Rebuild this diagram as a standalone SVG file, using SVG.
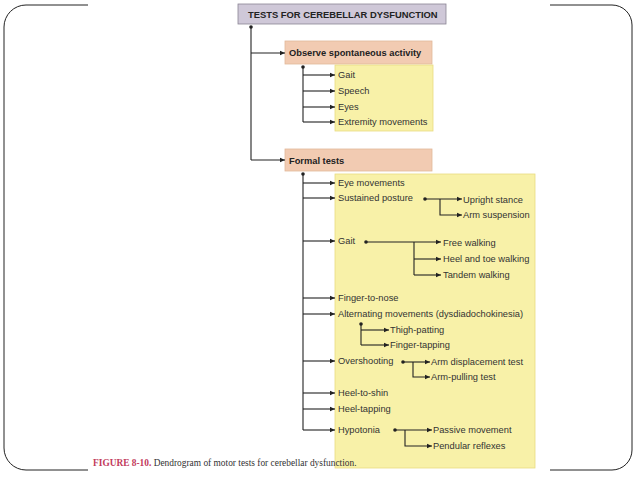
<svg xmlns="http://www.w3.org/2000/svg" width="638" height="479" viewBox="0 0 638 479">
<defs>
<marker id="a" markerWidth="6" markerHeight="6" refX="5" refY="3" orient="auto" markerUnits="userSpaceOnUse"><path d="M0,0.8 L5,3 L0,5.2 Z" fill="#222"/></marker>
<style>
text{font-family:"Liberation Sans",Arial,sans-serif;font-size:9.3px;fill:#333}
.b{font-weight:bold;fill:#222}
.c{stroke:#222;stroke-width:1.1;fill:none}
.ar{marker-end:url(#a)}
.y{fill:#f8f1a8;stroke:#e8dc80;stroke-width:0.8}
.o{fill:#f2cbb2;stroke:#e2b89a;stroke-width:0.8}
</style>
</defs>
<rect width="638" height="479" fill="#fff"/>
<path d="M88,5 H26 A22,22 0 0 0 4,27 V448 A22,22 0 0 0 26,470 H88" fill="none" stroke="#222" stroke-width="1"/>
<path d="M550,5 H612 A20,20 0 0 1 632,25 V450 A20,20 0 0 1 612,470 H550" fill="none" stroke="#222" stroke-width="1"/>
<g id="title"><rect x="238" y="4" width="208" height="20" fill="#cfc8d8" stroke="#8a8494" stroke-width="0.8"/><text x="248" y="18" class="b" style="font-size:9.4px">TESTS FOR CEREBELLAR DYSFUNCTION</text></g>
<g id="observe"><rect class="o" x="285" y="41" width="147" height="23"/><text x="289" y="56" class="b">Observe spontaneous activity</text></g>
<rect id="ybox1" class="y" x="335" y="65" width="98" height="66"/>
<g id="formal"><rect class="o" x="285" y="149" width="147" height="22"/><text x="289" y="164" class="b">Formal tests</text></g>
<rect id="ybox2" class="y" x="335" y="174" width="200" height="294"/>
<g id="connectors">
<circle cx="251" cy="27" r="1.8" fill="#222"/>
<path class="c" d="M251,27 V160"/>
<path class="c ar" d="M251,53 H285"/><path class="c ar" d="M251,160 H285"/>
<circle cx="303" cy="67" r="1.8" fill="#222"/>
<path class="c" d="M303,67 V122"/>
<path class="c ar" d="M303,75 H335"/><path class="c ar" d="M303,91 H335"/><path class="c ar" d="M303,107 H335"/><path class="c ar" d="M303,122 H335"/>
<circle cx="303" cy="174" r="1.8" fill="#222"/>
<path class="c" d="M303,174 V430"/>
<path class="c ar" d="M303,183 H335"/><path class="c ar" d="M303,198 H335"/><path class="c ar" d="M303,241 H335"/><path class="c ar" d="M303,298 H335"/><path class="c ar" d="M303,314 H335"/><path class="c ar" d="M303,361 H335"/><path class="c ar" d="M303,393 H335"/><path class="c ar" d="M303,409 H335"/><path class="c ar" d="M303,430 H335"/>
<circle cx="425" cy="199" r="1.8" fill="#222"/>
<path class="c ar" d="M425,199 H462"/><path class="c ar" d="M440,199 V215 H462"/>
<circle cx="366" cy="242" r="1.8" fill="#222"/>
<path class="c ar" d="M366,242 H441"/><path class="c" d="M414,242 V275"/><path class="c ar" d="M414,259 H441"/><path class="c ar" d="M414,275 H441"/>
<circle cx="361" cy="324" r="1.8" fill="#222"/>
<path class="c" d="M361,324 V345"/><path class="c ar" d="M361,330 H389"/><path class="c ar" d="M361,345 H389"/>
<circle cx="403" cy="362" r="1.8" fill="#222"/>
<path class="c ar" d="M403,362 H430"/><path class="c ar" d="M413,362 V377 H430"/>
<circle cx="395" cy="430" r="1.8" fill="#222"/>
<path class="c ar" d="M395,430 H432"/><path class="c ar" d="M405,430 V446 H432"/>
</g>
<g id="labels">
<text x="338" y="78">Gait</text><text x="338" y="94">Speech</text><text x="338" y="110">Eyes</text><text x="338" y="125">Extremity movements</text>
<text x="338" y="186">Eye movements</text><text x="338" y="201">Sustained posture</text>
<text x="463" y="203">Upright stance</text><text x="463" y="218">Arm suspension</text>
<text x="338" y="244">Gait</text>
<text x="443" y="246">Free walking</text><text x="443" y="262">Heel and toe walking</text><text x="443" y="278">Tandem walking</text>
<text x="338" y="301">Finger-to-nose</text>
<text x="338" y="317">Alternating movements (dysdiadochokinesia)</text>
<text x="390" y="333">Thigh-patting</text><text x="390" y="348">Finger-tapping</text>
<text x="338" y="364">Overshooting</text>
<text x="431" y="365">Arm displacement test</text><text x="431" y="380">Arm-pulling test</text>
<text x="338" y="396">Heel-to-shin</text><text x="338" y="412">Heel-tapping</text><text x="338" y="433">Hypotonia</text>
<text x="433" y="433">Passive movement</text><text x="433" y="449">Pendular reflexes</text>
</g>
<text x="93" y="466" style="font-family:'Liberation Serif',serif;font-size:9.4px;fill:#333"><tspan style="fill:#c23a5c;font-weight:bold">FIGURE 8-10.</tspan>  Dendrogram of motor tests for cerebellar dysfunction.</text>
</svg>
